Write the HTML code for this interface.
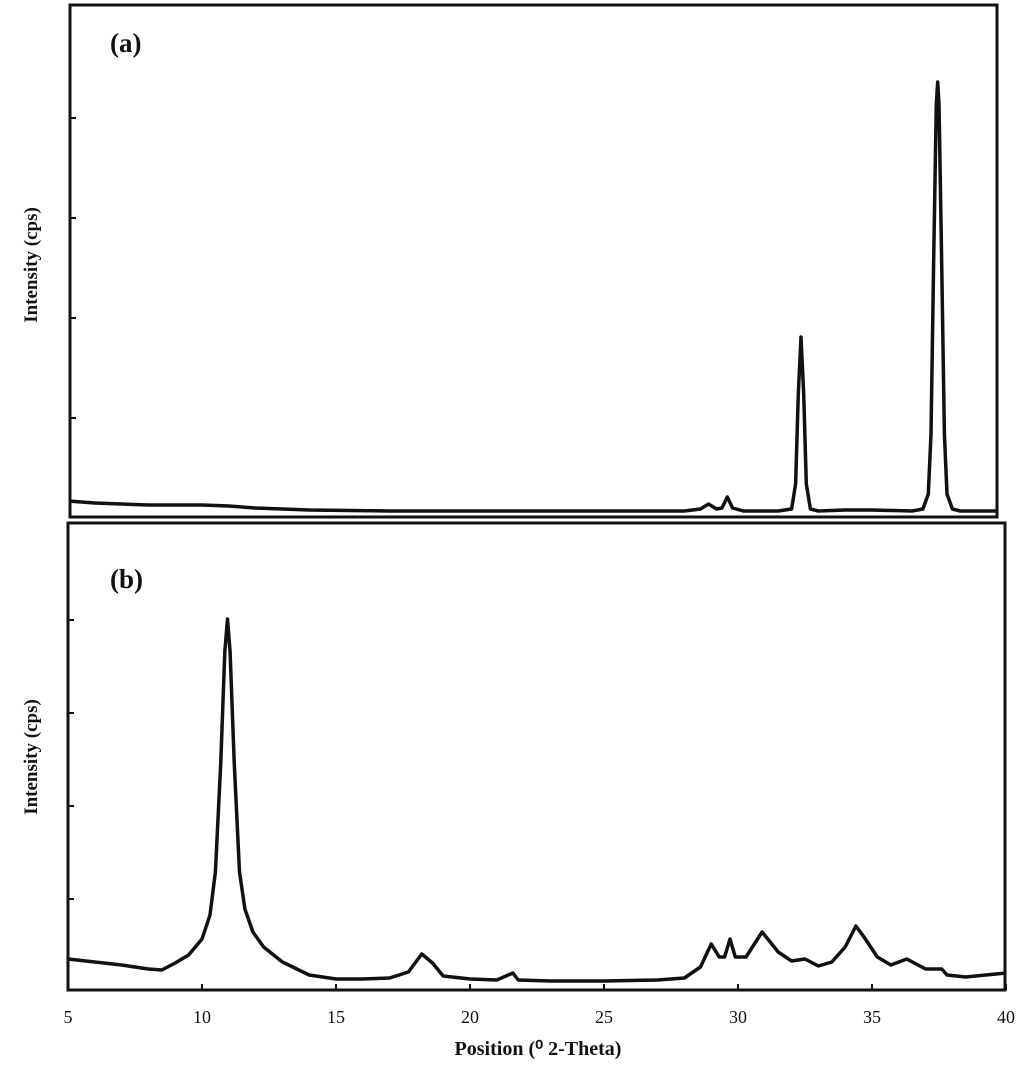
<!DOCTYPE html>
<html><head><meta charset="utf-8"><style>
html,body{margin:0;padding:0;background:#fff;}
svg{display:block;}
text{font-family:"Liberation Serif",serif;fill:#111;}
</style></head><body>
<svg id="chart" width="1016" height="1069" viewBox="0 0 1016 1069">
<defs>
<clipPath id="clip-a"><rect x="70" y="5" width="927" height="512"/></clipPath>
<clipPath id="clip-b"><rect x="68" y="523" width="937" height="467"/></clipPath>
</defs>
</svg>
<script>
// Shared x-axis
const xTicks = [5,10,15,20,25,30,35,40];
// Panel (a) pattern: 2-theta and intensity (arbitrary units)
const aTheta = [5,6,8,10,11,12,14,17,20,25,28,28.6,28.9,29.2,29.4,29.6,29.8,30.2,31.5,32.0,32.15,32.25,32.35,32.45,32.55,32.7,33,34,35,36.5,36.9,37.1,37.2,37.3,37.4,37.45,37.5,37.6,37.7,37.8,38.0,38.3,40];
const aInt   = [13,11,9,9,8,6,4,3,3,3,3,5,10,5,6,17,6,3,3,5,30,120,177,120,30,5,3,4,4,3,5,20,80,250,410,432,410,250,80,20,5,3,3];
// Panel (b) pattern
const bTheta = [5,6,7,8,8.5,9,9.5,10,10.3,10.5,10.7,10.85,10.95,11.05,11.2,11.4,11.6,11.9,12.3,13,14,15,16,17,17.7,18.2,18.6,19,20,21,21.6,21.8,23,25,27,28,28.6,29,29.3,29.5,29.7,29.9,30.3,30.9,31.5,32,32.5,33,33.5,34,34.4,34.7,35.2,35.7,36.3,37,37.6,37.8,38.5,40];
const bInt   = [28,25,22,18,17,24,32,48,72,115,225,335,368,335,225,115,78,55,40,25,12,8,8,9,15,33,24,11,8,7,14,7,6,6,7,9,20,43,30,30,48,30,30,55,35,26,28,21,25,40,61,50,30,22,28,18,18,12,10,14];
const yTicksA = [1,2,3,4];
const yTicksB = [1,2,3,4];

const svg = document.getElementById('chart');
const NS = 'http://www.w3.org/2000/svg';
function mk(tag, attrs){const e=document.createElementNS(NS,tag);for(const k in attrs)e.setAttribute(k,attrs[k]);svg.appendChild(e);return e;}
const X0=68, PX=26.8;
const xs = t => X0 + (t-5)*PX;

const panels = [
 {id:'a', th:aTheta, it:aInt, left:70, right:997, top:5, bottom:517, base:517, tick0:418, tickStep:100, yt:yTicksA, lab:'(a)', lx:110, ly:52, ay:265},
 {id:'b', th:bTheta, it:bInt, left:68, right:1005, top:523, bottom:990, base:990, tick0:899, tickStep:93, yt:yTicksB, lab:'(b)', lx:110, ly:588, ay:757}
];
panels.forEach(p=>{
  p.yt.forEach((v,i)=>{
    const y = p.tick0 - i*p.tickStep;
    const t = mk('line',{x1:p.left,x2:p.left+6,y1:y,y2:y,stroke:'#111','stroke-width':2});
    
    
  });
  const pts = p.th.map((t,i)=>xs(t).toFixed(1)+','+(p.base - 3 - p.it[i]).toFixed(1)).join(' ');
  const line = mk('polyline',{points:pts,fill:'none',stroke:'#111','stroke-width':3.5,'stroke-linejoin':'round','clip-path':'url(#clip-'+p.id+')'});
  
  
  const box = mk('rect',{x:p.left,y:p.top,width:p.right-p.left,height:p.bottom-p.top,fill:'none',stroke:'#111','stroke-width':3});
  
  
  const l = mk('text',{x:p.lx,y:p.ly,'font-size':27,'font-weight':'bold'});
  l.textContent=p.lab;
  
  
  const yl = mk('text',{x:0,y:0,'font-size':19,'font-weight':'bold','text-anchor':'middle',transform:'translate(37,'+p.ay+') rotate(-90)'});
  yl.textContent='Intensity (cps)';
  
  
});
xTicks.forEach(v=>{
  const x = xs(v);
  const t = mk('line',{x1:x,x2:x,y1:990,y2:984,stroke:'#111','stroke-width':2});
  
  
  const tl = mk('text',{x:x,y:1023,'font-size':18,'text-anchor':'middle'});
  tl.textContent=String(v);
  
  
});
const xt = mk('text',{x:538,y:1055,'font-size':20,'font-weight':'bold','text-anchor':'middle'});
xt.textContent='Position (\u2070 2-Theta)';


</script>
</body></html>
